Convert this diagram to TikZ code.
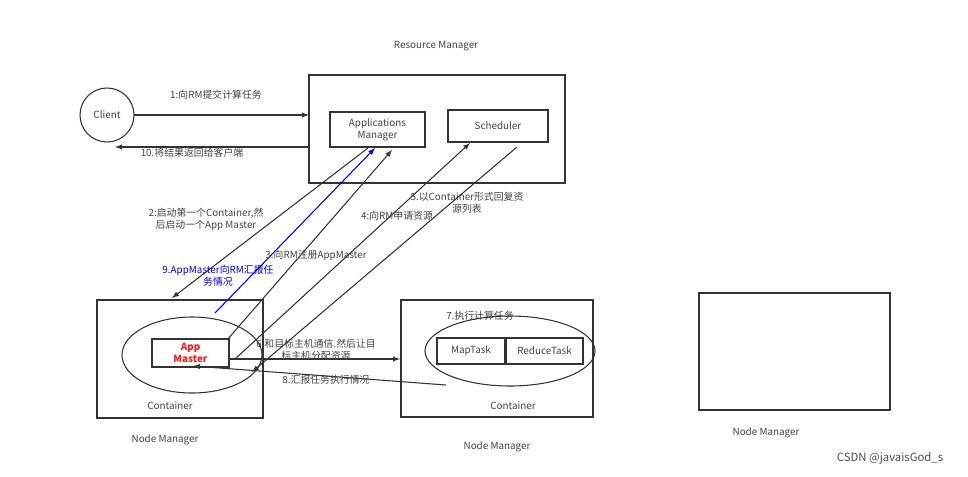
\documentclass[tikz,border=0pt]{standalone}
\usepackage{fontspec}
\setmainfont{Noto Sans CJK SC}
\begin{document}
\begin{tikzpicture}[x=0.75pt,y=-0.75pt,
 box/.style={draw=black!80,line width=0.8pt},
 lbl/.style={font=\fontsize{7.4}{9}\selectfont,text=black!75,align=center,inner sep=1pt},
 arr/.style={draw=black!80,line width=0.8pt,-latex},
 every node/.style={inner sep=0pt}]
\useasboundingbox (0,0) rectangle (968,476);
% Resource manager
\node[lbl] (rmt) at (436,46) {Resource Manager};
\node[box,minimum width=256pt*0.75,minimum height=108pt*0.75] (rm) at (437,129) {};
\node[box,minimum width=95pt*0.75,minimum height=35pt*0.75,lbl] (am) at (377.5,129.5) {Applications\\Manager};
\node[box,minimum width=100pt*0.75,minimum height=32pt*0.75,lbl] (sch) at (498,126) {Scheduler};
\node[draw=black!80,line width=0.8pt,circle,minimum size=54pt*0.75,lbl] (cl) at (107,115) {Client};
% Node managers
\node[box,minimum width=166pt*0.75,minimum height=118pt*0.75] (nm1) at (180,359) {};
\draw[box] (192,355) ellipse (70 and 38);
\node[box,minimum width=77pt*0.75,minimum height=28pt*0.75,lbl,text=red!90!white,font=\fontsize{7.4}{9}\selectfont\bfseries] (ap) at (190.5,353) {App\\Master};
\node[lbl] (c1) at (170,406) {Container};
\node[lbl] (n1) at (165,440) {Node Manager};
\node[box,minimum width=192pt*0.75,minimum height=117pt*0.75] (nm2) at (497,358.5) {};
\draw[box] (510,351) ellipse (85 and 35);
\node[box,minimum width=68pt*0.75,minimum height=26pt*0.75,lbl] (mt) at (471,351) {MapTask};
\node[box,minimum width=77pt*0.75,minimum height=26pt*0.75,lbl] (rt) at (544.5,351) {ReduceTask};
\node[lbl] (c2) at (513,406) {Container};
\node[lbl] (n2) at (497,447) {Node Manager};
\node[lbl] (t7) at (480,316) {7.执行计算任务};
\node[box,minimum width=191pt*0.75,minimum height=117pt*0.75] (nm3) at (794.5,351.5) {};
\node[lbl] (n3) at (766,433) {Node Manager};
\node[lbl,text=black!70,font=\fontsize{8.5}{10}\selectfont] (wm) at (890,458) {CSDN @javaisGod\_s};
% arrows
\coordinate (c1a) at (134,115); \coordinate (r1) at (309,115);
\draw[arr] (c1a) -- (r1);
\node[lbl] at (216,95) {1:向RM提交计算任务};
\coordinate (r10) at (309,147); \coordinate (c10) at (115,147);
\draw[arr] (r10) -- (c10);
\node[lbl] at (192,153) {10.将结果返回给客户端};
\coordinate (a2s) at (368,148); \coordinate (a2e) at (172,298);
\draw[arr] (a2s) -- (a2e);
\node[lbl] at (206,219) {2:启动第一个Container,然\\后启动一个App Master};
\coordinate (a9s) at (215,313); \coordinate (a9e) at (375,148);
\draw[arr,draw=blue] (a9s) -- (a9e);
\node[lbl,text=blue!80!black] at (218,276) {9.AppMaster向RM汇报任\\务情况};
\coordinate (a3s) at (227,340); \coordinate (a3e) at (392,150);
\draw[arr] (a3s) -- (a3e);
\node[lbl] at (316,255) {3.向RM注册AppMaster};
\coordinate (a4s) at (235,359); \coordinate (a4e) at (470,143);
\draw[arr] (a4s) -- (a4e);
\node[lbl] at (397,216) {4:向RM申请资源};
\coordinate (a5s) at (517,147); \coordinate (a5e) at (252,372);
\draw[arr] (a5s) -- (a5e);
\node[lbl] at (467,203) {5.以Container形式回复资\\源列表};
\coordinate (a6s) at (229,359); \coordinate (a6e) at (400,359);
\draw[arr] (a6s) -- (a6e);
\node[lbl] at (316,350) {6.和目标主机通信.然后让目\\标主机分配资源};
\coordinate (a8s) at (446,385); \coordinate (a8e) at (193,366);
\draw[arr] (a8s) -- (a8e);
\node[lbl] at (326,380) {8.汇报任务执行情况};
\end{tikzpicture}
\end{document}
